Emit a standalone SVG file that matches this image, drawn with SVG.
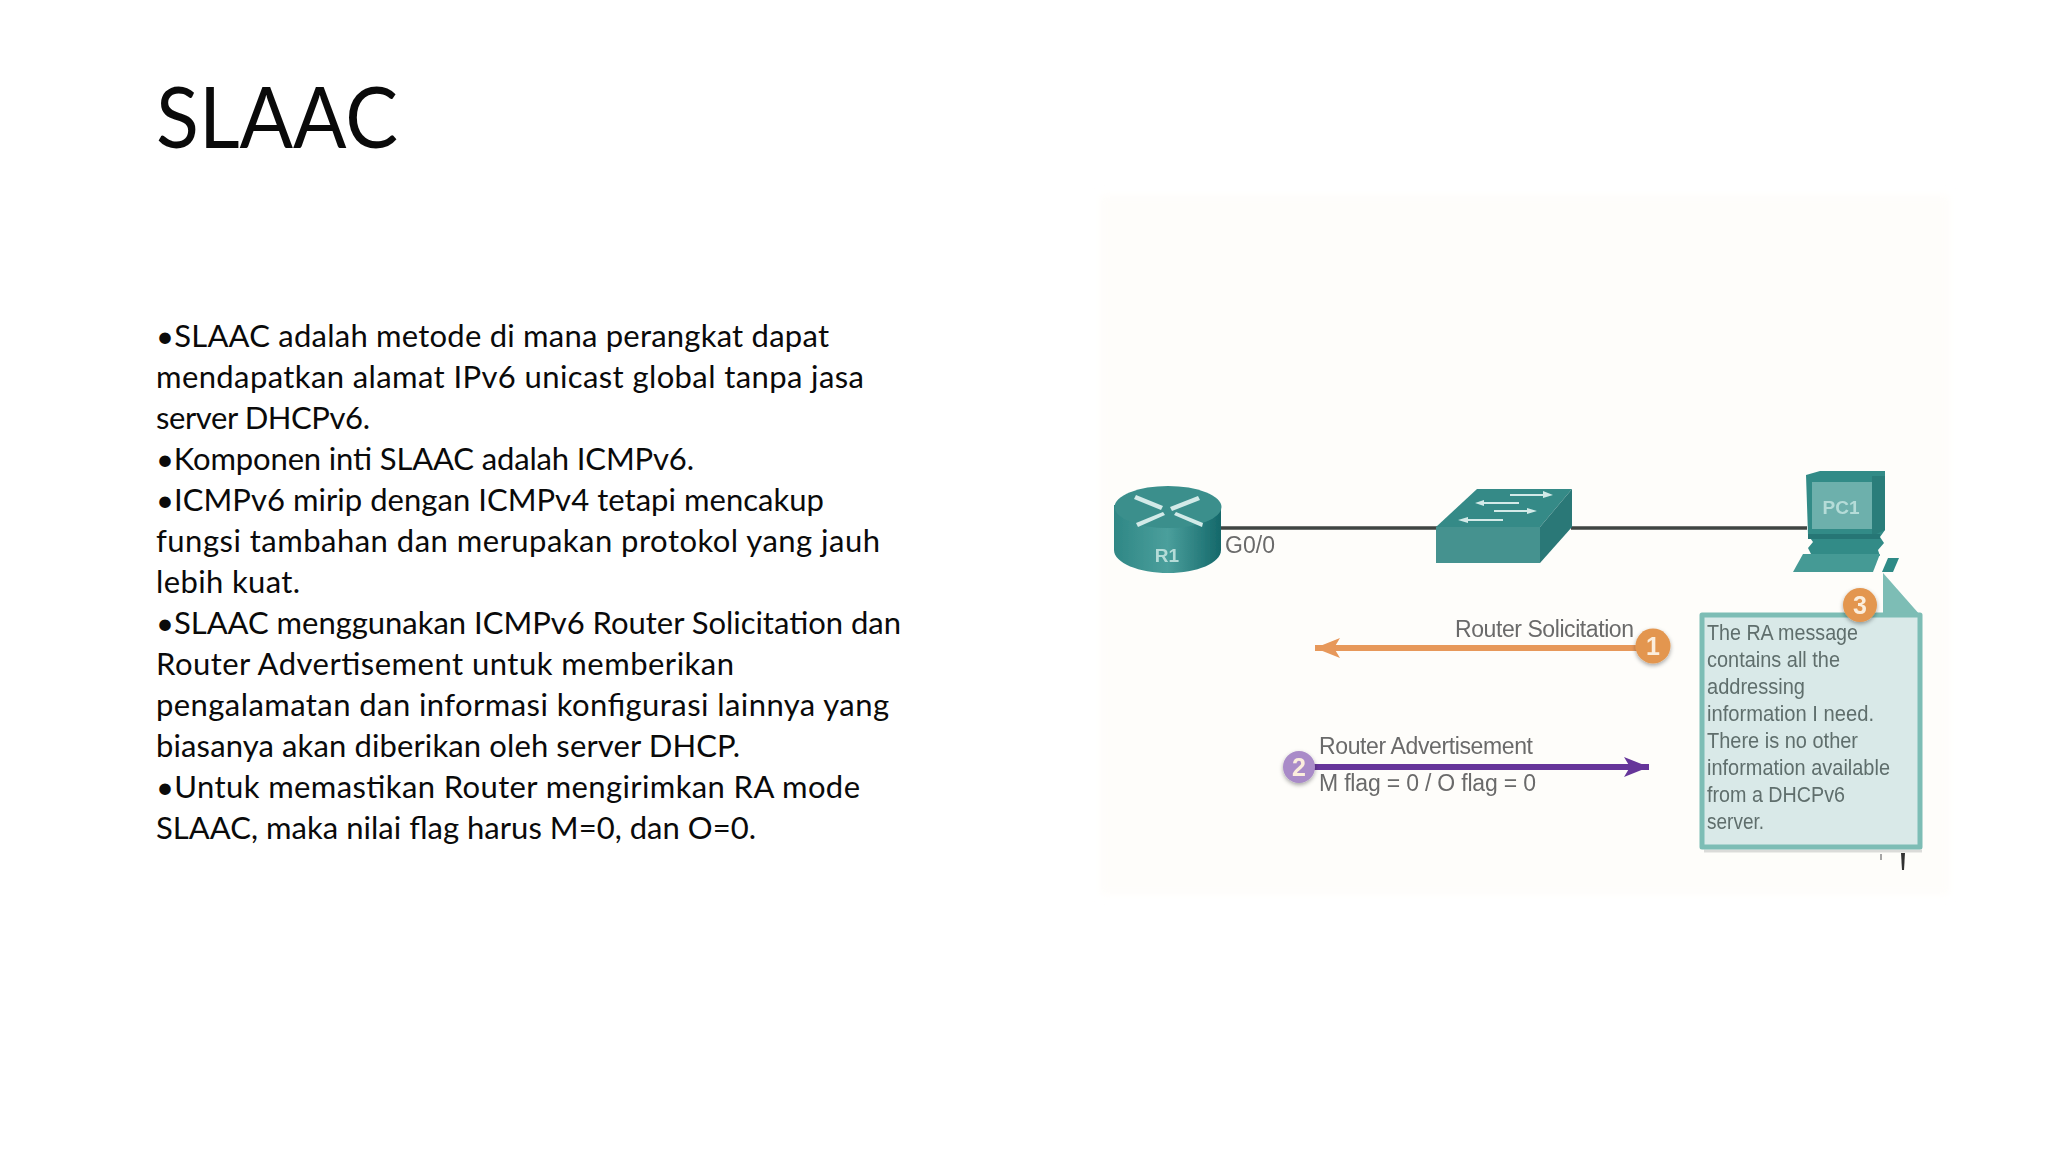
<svg xmlns="http://www.w3.org/2000/svg" width="2048" height="1152" viewBox="0 0 2048 1152">
<defs>
<style>
.body{font-family:Lato,"Open Sans",sans-serif;font-size:31px;fill:#0a0a0a}
.lbl{font-family:"Liberation Sans",Arial,sans-serif;font-size:23px;fill:#6a6a6a}
.call{font-family:"Liberation Sans",Arial,sans-serif;font-size:21.500px;fill:#5f6e6c}
.dev{font-family:"Liberation Sans",Arial,sans-serif;font-weight:bold;fill:#b5dcd8;text-anchor:middle}
.num{font-family:"Liberation Sans",Arial,sans-serif;font-weight:bold;font-size:25px;fill:#fbeedd;text-anchor:middle}
.link{stroke:#3f4442;stroke-width:3.500;fill:none}
.arr{fill:#d3eae8}
</style>
<filter id="soft" x="-10%" y="-10%" width="120%" height="120%"><feGaussianBlur stdDeviation="0.7"/></filter>
<filter id="edge" x="-5%" y="-5%" width="110%" height="110%"><feGaussianBlur stdDeviation="4"/></filter>
<filter id="shadow" x="-30%" y="-30%" width="160%" height="160%"><feDropShadow dx="0" dy="2" stdDeviation="2" flood-color="#000" flood-opacity="0.35"/></filter>
<linearGradient id="cyl" x1="0" x2="1" y1="0" y2="0">
<stop offset="0" stop-color="#2f8785"/><stop offset="0.5" stop-color="#4b9f9c"/><stop offset="1" stop-color="#14686a"/>
</linearGradient>
<marker id="headO" markerWidth="26" markerHeight="20" refX="25" refY="10" orient="auto" markerUnits="userSpaceOnUse"><path d="M0 0L25 10L0 20L6 10Z" fill="#e7985a"/></marker>
<marker id="headP" markerWidth="26" markerHeight="20" refX="25" refY="10" orient="auto" markerUnits="userSpaceOnUse"><path d="M0 0L25 10L0 20L6 10Z" fill="#66369a"/></marker>
</defs>
<rect width="2048" height="1152" fill="#fff"/>
<rect x="1100" y="195" width="850" height="700" fill="#fefdfa" filter="url(#edge)"/>

<g id="title"><text x="156" y="148" font-family="Lato,'Open Sans',sans-serif" font-size="85" fill="#0a0a0a" textLength="242" lengthAdjust="spacingAndGlyphs">SLAAC</text></g>

<g id="body-text" class="body">
<text class="body" x="156" y="347" textLength="673">•SLAAC adalah metode di mana perangkat dapat</text>
<text class="body" x="156" y="388" textLength="708">mendapatkan alamat IPv6 unicast global tanpa jasa</text>
<text class="body" x="156" y="429" textLength="214">server DHCPv6.</text>
<text class="body" x="156" y="470" textLength="538">•Komponen inti SLAAC adalah ICMPv6.</text>
<text class="body" x="156" y="511" textLength="668">•ICMPv6 mirip dengan ICMPv4 tetapi mencakup</text>
<text class="body" x="156" y="552" textLength="724">fungsi tambahan dan merupakan protokol yang jauh</text>
<text class="body" x="156" y="593" textLength="144">lebih kuat.</text>
<text class="body" x="156" y="634" textLength="745">•SLAAC menggunakan ICMPv6 Router Solicitation dan</text>
<text class="body" x="156" y="675" textLength="578">Router Advertisement untuk memberikan</text>
<text class="body" x="156" y="716" textLength="733">pengalamatan dan informasi konfigurasi lainnya yang</text>
<text class="body" x="156" y="757" textLength="584">biasanya akan diberikan oleh server DHCP.</text>
<text class="body" x="156" y="798" textLength="704">•Untuk memastikan Router mengirimkan RA mode</text>
<text class="body" x="156" y="839" textLength="600">SLAAC, maka nilai flag harus M=0, dan O=0.</text>
</g>

<g id="connectors" filter="url(#soft)">
<path class="link" d="M1220 528H1437"/>
<path class="link" d="M1571 528H1807"/>
<path d="M1651 648H1315" stroke="#e7985a" stroke-width="6" fill="none" marker-end="url(#headO)"/>
<path d="M1300 767H1649" stroke="#66369a" stroke-width="6" fill="none" marker-end="url(#headP)"/>
</g>

<g id="R1" filter="url(#soft)">
<path d="M1114 505V550C1114 563 1139 573 1168 573S1221 563 1221 550V505Z" fill="url(#cyl)"/>
<ellipse cx="1168" cy="507" rx="53.500" ry="21" fill="#3a8f8c"/>
<path class="arr" d="M1136 495L1163 506L1161 510L1134 499Z"/>
<path class="arr" d="M1198 496L1170 507L1172 511L1200 500Z"/>
<path class="arr" d="M1138 527L1165 515L1163 512L1136 523Z"/>
<path class="arr" d="M1202 527L1174 515L1176 512L1203 523Z"/>
<text class="dev" x="1167" y="562" font-size="19">R1</text>
</g>

<g id="switch" filter="url(#soft)">
<path d="M1477 489H1572L1540 527H1436Z" fill="#348a87"/>
<path d="M1436 527H1540V563H1436Z" fill="#44928f"/>
<path d="M1572 489V527L1540 563V527Z" fill="#2b7877"/>
<g class="arr">
<path d="M1510 494H1543V491L1553 495L1543 498V496H1510Z"/>
<path d="M1519 502H1484V500L1475 503L1484 506V504H1519Z"/>
<path d="M1494 510H1527V508L1537 511L1527 514V512H1494Z"/>
<path d="M1503 519H1468V517L1458 520L1468 523V521H1503Z"/>
</g>
</g>

<g id="PC1" filter="url(#soft)">
<path d="M1806 475L1820 471H1885V530L1880 537L1884 543L1878 550L1880 556H1812L1808 548L1813 542L1808 535Z" fill="#328b87"/>
<path d="M1872 476H1885V530L1872 536Z" fill="#2a7d7a"/>
<path d="M1808 534H1880V539H1808Z" fill="#287674"/>
<rect x="1812" y="482" width="60" height="47" fill="#6db0ac"/>
<text class="dev" x="1841" y="514" font-size="19">PC1</text>
<path d="M1803 554H1880L1873 572H1793Z" fill="#459a95"/>
<path d="M1888 558H1899L1893 572H1882Z" fill="#2f8a86"/>
</g>

<g id="callout" filter="url(#soft)">
<path d="M1704 851H1922" stroke="#9a9a9a" stroke-opacity="0.35" stroke-width="3"/>
<path d="M1883 573L1920 615V847H1702V615H1883Z" fill="#d9e9e8"/>
<path d="M1883 573L1920 615H1883Z" fill="#7dbdb5"/>
<path d="M1702 615H1920V847H1702Z" fill="none" stroke="#7dbdb5" stroke-width="5" stroke-linejoin="round"/>
<text class="call" x="1707" y="640" textLength="151" lengthAdjust="spacingAndGlyphs">The RA message</text>
<text class="call" x="1707" y="667" textLength="133" lengthAdjust="spacingAndGlyphs">contains all the</text>
<text class="call" x="1707" y="694" textLength="98" lengthAdjust="spacingAndGlyphs">addressing</text>
<text class="call" x="1707" y="721" textLength="167" lengthAdjust="spacingAndGlyphs">information I need.</text>
<text class="call" x="1707" y="748" textLength="151" lengthAdjust="spacingAndGlyphs">There is no other</text>
<text class="call" x="1707" y="775" textLength="183" lengthAdjust="spacingAndGlyphs">information available</text>
<text class="call" x="1707" y="802" textLength="138" lengthAdjust="spacingAndGlyphs">from a DHCPv6</text>
<text class="call" x="1707" y="829" textLength="57" lengthAdjust="spacingAndGlyphs">server.</text>
<path d="M1901 853L1905 853L1904 870L1902 870Z" fill="#333"/>
<path d="M1881 854V860" stroke="#888" stroke-width="1.500"/>
</g>

<g id="badge-3" filter="url(#shadow)"><circle cx="1860" cy="605" r="17" fill="#e3964f"/><text class="num" x="1860" y="614">3</text></g>
<g id="badge-1" filter="url(#shadow)"><circle cx="1653" cy="646" r="17.500" fill="#e3964f"/><text class="num" x="1653" y="655">1</text></g>
<g id="badge-2" filter="url(#shadow)"><circle cx="1299" cy="767" r="16" fill="#a98bc8"/><text class="num" x="1299" y="776">2</text></g>

<g id="labels" filter="url(#soft)">
<text class="lbl" x="1225" y="553" textLength="50">G0/0</text>
<text class="lbl" x="1455" y="637" textLength="179">Router Solicitation</text>
<text class="lbl" x="1319" y="754" textLength="214">Router Advertisement</text>
<text class="lbl" x="1319" y="791" textLength="217">M flag = 0 / O flag = 0</text>
</g>
</svg>
